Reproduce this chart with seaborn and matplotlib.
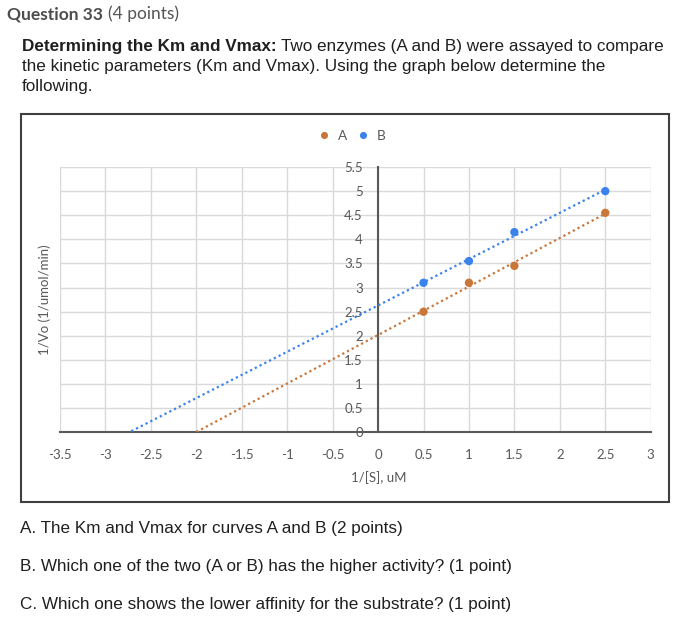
import numpy as np
import pandas as pd
import seaborn as sns
import matplotlib.pyplot as plt
from matplotlib.patches import Rectangle

# data
inv_s = [0.5, 1.0, 1.5, 2.5]
inv_v_a = [2.5, 3.1, 3.45, 4.55]
inv_v_b = [3.1, 3.55, 4.15, 5.0]
enzymes = ['A', 'B']
colors = {'A': '#c97639', 'B': '#3b82ec'}

x_ticks = [-3.5, -3, -2.5, -2, -1.5, -1, -0.5, 0, 0.5, 1, 1.5, 2, 2.5, 3]
x_tick_labels = ['-3.5', '-3', '-2.5', '-2', '-1.5', '-1', '-0.5', '0',
                 '0.5', '1', '1.5', '2', '2.5', '3']
y_ticks = [0, 0.5, 1, 1.5, 2, 2.5, 3, 3.5, 4, 4.5, 5, 5.5]
y_tick_labels = ['0', '0.5', '1', '1.5', '2', '2.5', '3', '3.5', '4', '4.5', '5', '5.5']

df = pd.DataFrame({'x': inv_s * 2,
                   'y': inv_v_a + inv_v_b,
                   'enzyme': ['A'] * 4 + ['B'] * 4})

sns.set_theme(style='white')
plt.rcParams['font.family'] = ['Lato', 'DejaVu Sans']
grey = '#595959'

fig = plt.figure(figsize=(6.75, 6.17), dpi=100)

# background layer in pixel coords for the question text and chart frame
bg = fig.add_axes([0, 0, 1, 1])
bg.set_xlim(0, 675)
bg.set_ylim(617, 0)
bg.axis('off')

ax = fig.add_axes([60 / 675, (617 - 432.3) / 617, 590.7 / 675, 265.3 / 617])
ax.set_facecolor('none')

sns.scatterplot(data=df, x='x', y='y', hue='enzyme', palette=colors,
                s=36, linewidth=0, ax=ax, zorder=4)

# linear trendlines (dotted), extended backwards and clipped at y=0
for name, vals in zip(enzymes, [inv_v_a, inv_v_b]):
    slope, icpt = np.polyfit(inv_s, vals, 1)
    xs = np.array([-3.5, 2.5])
    ax.plot(xs, slope * xs + icpt, color=colors[name], lw=1.6,
            ls=(0, (1, 1.4)), zorder=3)

ax.set_xlim(-3.5, 3)
ax.set_ylim(0, 5.5)
ax.set_xticks(x_ticks, x_tick_labels)
ax.set_yticks(y_ticks, y_tick_labels)
ax.tick_params(axis='both', length=0, colors=grey, labelsize=9.5)
ax.tick_params(axis='x', pad=12)
ax.tick_params(axis='y', pad=11)
ax.grid(True, color='#d9d9d9', lw=1.0)
ax.set_axisbelow(True)

ax.spines['left'].set_position(('data', 0))
for s in ['top', 'right']:
    ax.spines[s].set_visible(False)
for s in ['left', 'bottom']:
    ax.spines[s].set_color(grey)
    ax.spines[s].set_linewidth(1.5)

ax.set_xlabel('1/[S], uM', fontsize=9.5, color=grey)
ax.xaxis.set_label_coords(0.54, -0.172)
ax.xaxis.label.set_va('center')
ax.set_ylabel('1/Vo (1/umol/min)', fontsize=9.5, color=grey)
ax.yaxis.set_label_coords(-0.0254, 0.4987)
ax.yaxis.label.set_va('center')

sns.move_legend(ax, 'center', bbox_to_anchor=(0.4876, 1.1187), ncol=2,
                title=None, frameon=False, handletextpad=0.0,
                columnspacing=0.15, fontsize=9.8, markerscale=0.85)
for t in ax.get_legend().get_texts():
    t.set_color(grey)

# chart frame
bg.add_patch(Rectangle((21, 114), 648, 388, fill=False, ec='#3f3f3f', lw=1.5))

# question header
hdr = bg.text(7, 14, 'Question 33', fontsize=12.5, fontweight='bold',
              color='#4d4d4d', va='center')
bg.annotate('(4 points)', xy=(1, 0), xycoords=hdr, xytext=(3.5, 0),
            textcoords='offset points', va='bottom', fontsize=12.5, color='#555555')

body = ['Liberation Sans', 'DejaVu Sans']
ink = '#1f1f1f'
fs = 12.35
b1 = bg.text(22, 47, 'Determining the Km and Vmax:', fontsize=fs, fontweight='bold',
             color=ink, va='center', family=body)
bg.annotate('Two enzymes (A and B) were assayed to compare', xy=(1, 0), xycoords=b1,
            xytext=(3.4, 0), textcoords='offset points', va='bottom',
            fontsize=fs, color=ink, family=body)
bg.text(22, 67, 'the kinetic parameters (Km and Vmax). Using the graph below determine the',
        fontsize=fs, color=ink, va='center', family=body)
bg.text(22, 87, 'following.', fontsize=fs, color=ink, va='center', family=body)

questions = ['A. The Km and Vmax for curves A and B (2 points)',
             'B. Which one of the two (A or B) has the higher activity? (1 point)',
             'C. Which one shows the lower affinity for the substrate? (1 point)']
for q, yy in zip(questions, [528, 567, 605]):
    bg.text(20, yy, q, fontsize=fs, color=ink, va='center', family=body)

fig.savefig('out.png', dpi=100)
